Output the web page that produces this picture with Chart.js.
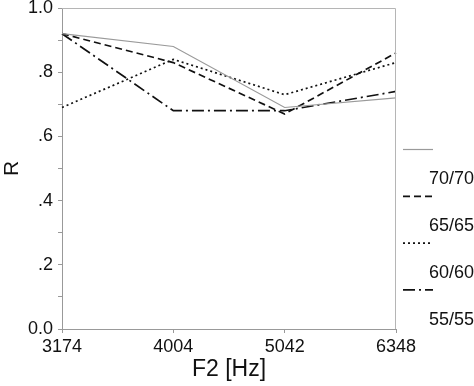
<!DOCTYPE html>
<html>
<head>
<meta charset="utf-8">
<script src="https://cdn.jsdelivr.net/npm/chart.js@4"></script>
<style>
  html, body { margin: 0; padding: 0; background: #fff; }
  #wrap { width: 474px; height: 386px; }
</style>
</head>
<body>
<div id="wrap"><canvas id="chart" width="474" height="386"></canvas></div>
<script>
// Data
const frequencies = ["3174", "4004", "5042", "6348"];
const seriesNames = ["70/70", "65/65", "60/60", "55/55"];
const r7070 = [0.92, 0.88, 0.69, 0.72];
const r6565 = [0.92, 0.83, 0.67, 0.86];
const r6060 = [0.69, 0.84, 0.73, 0.83];
const r5555 = [0.92, 0.68, 0.68, 0.74];

const FONT = "'Liberation Sans', Arial, sans-serif";

// line looks for each series
const looks = [
  { color: "#9a9a9a", width: 1.2, dash: [] },
  { color: "#111", width: 1.7, dash: [7, 4] },
  { color: "#111", width: 1.7, dash: [2, 3] },
  { color: "#111", width: 1.7, dash: [12, 4, 2, 4] }
];

const values = [r7070, r6565, r6060, r5555];

// box around the plot + legend on the right
const framePlugin = {
  id: "frame",
  afterDraw(chart) {
    const ctx = chart.ctx;
    const a = chart.chartArea;
    ctx.save();
    ctx.strokeStyle = "#b5b5b5";
    ctx.lineWidth = 1;
    ctx.beginPath();
    ctx.moveTo(a.left, a.top + 0.5);
    ctx.lineTo(a.right - 0.5, a.top + 0.5);
    ctx.lineTo(a.right - 0.5, a.bottom);
    ctx.stroke();

    // legend: sample line, then label underneath
    ctx.font = "18px " + FONT;
    ctx.textBaseline = "middle";
    ctx.fillStyle = "#111";
    chart.data.datasets.forEach((ds, i) => {
      const y = 149.5 + i * 46.8;
      ctx.strokeStyle = ds.borderColor;
      ctx.lineWidth = ds.borderWidth;
      ctx.setLineDash(ds.borderDash);
      ctx.beginPath();
      ctx.moveTo(403, y);
      ctx.lineTo(433, y);
      ctx.stroke();
      ctx.setLineDash([]);
      ctx.fillText(ds.label, 429, y + 30);
    });
    ctx.restore();
  }
};

new Chart(document.getElementById("chart"), {
  type: "line",
  data: {
    labels: frequencies,
    datasets: seriesNames.map((name, i) => ({
      label: name,
      data: values[i],
      borderColor: looks[i].color,
      borderWidth: looks[i].width,
      borderDash: looks[i].dash,
      pointRadius: 0,
      fill: false,
      tension: 0
    }))
  },
  options: {
    responsive: false,
    animation: false,
    layout: { padding: { top: 0, right: 78, left: 0, bottom: 0 } },
    plugins: {
      legend: { display: false },
      tooltip: { enabled: false }
    },
    scales: {
      x: {
        offset: false,
        afterFit(scale) { scale.height = 57; },
        grid: { drawOnChartArea: false, tickLength: 4, color: "#999" },
        border: { color: "#999", width: 1 },
        ticks: { color: "#111", font: { family: FONT, size: 18, lineHeight: 1 }, maxRotation: 0, padding: 5 },
        title: { display: true, text: "F2 [Hz]", color: "#111", font: { family: FONT, size: 23 }, padding: { top: 0, bottom: 3 } }
      },
      y: {
        min: 0,
        max: 1,
        afterFit(scale) {
          scale.width = 62;
          scale.paddingTop = 8;
        },
        grid: { drawOnChartArea: false, tickLength: 4, color: "#999" },
        border: { color: "#999", width: 1 },
        ticks: {
          stepSize: 0.1,
          autoSkip: false,
          color: "#111",
          font: { family: FONT, size: 18, lineHeight: 0.9 },
          padding: 5,
          callback(v) {
            const k = Math.round(v * 10);
            if (k % 2 !== 0) return "";
            if (k === 0) return "0.0";
            if (k === 10) return "1.0";
            return "." + k;
          }
        },
        title: { display: true, text: "R", color: "#111", font: { family: FONT, size: 21 }, padding: 0 }
      }
    }
  },
  plugins: [framePlugin]
});
</script>
</body>
</html>
